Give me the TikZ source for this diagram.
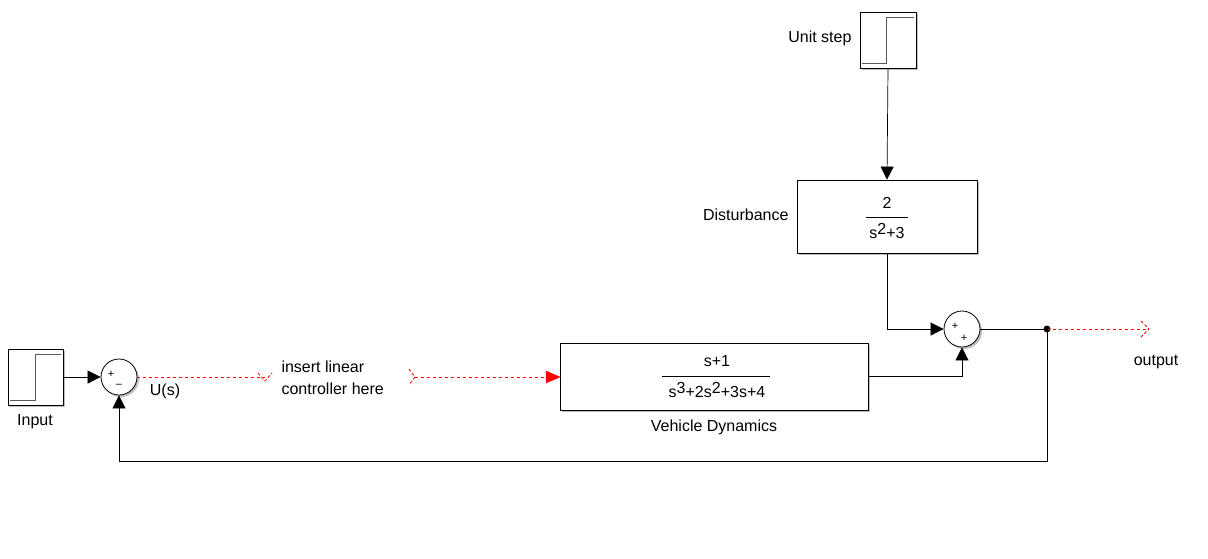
\documentclass[tikz,border=0pt]{standalone}
\usepackage{fontspec}
\setmainfont{Liberation Sans}
\usetikzlibrary{arrows.meta}
\begin{document}
\begin{tikzpicture}[x=1pt,y=-1pt,
  blk/.style={draw,line width=0.8pt,fill=white},
  sh/.style={fill=black!25},
  sumc/.style={circle,draw,line width=0.8pt,fill=white,minimum size=36pt,inner sep=0pt},
  wire/.style={line width=0.7pt},
  arr/.style={wire,-{Triangle[length=13pt,width=13pt]}},
  red wire/.style={red,dashed,line width=0.7pt},
  lbl/.style={font=\fontsize{16}{22}\selectfont},
  pm/.style={font=\fontsize{11}{11}\selectfont}]
\useasboundingbox (0,0) rectangle (1208,558);
% Input
\fill[sh] (10,351) rectangle (65,407);
\node[blk,minimum width=55pt,minimum height=56pt,inner sep=0pt] (in) at (35.5,377) {};
\draw[gray!70!black,line width=0.8pt] (10,400) -- (35,400) -- (35,354) -- (61,354);
\node[lbl] (inl) at (35,422) {Input};
% Unit step
\fill[sh] (862,14) rectangle (918,70);
\node[blk,minimum width=56pt,minimum height=56pt,inner sep=0pt] (us) at (888,40) {};
\draw[gray!70!black,line width=0.8pt] (862,63) -- (886,63) -- (886,17) -- (914,17);
\node[lbl,anchor=east] (usl) at (855,38) {Unit step};
% Disturbance
\fill[sh] (799,182) rectangle (979,255);
\node[blk,minimum width=180pt,minimum height=73pt,inner sep=0pt] (dist) at (887,216.5) {};
\node[lbl] (dnum) at (887,203) {2};
\draw[line width=0.6pt] (866,217) -- (908,217);
\node[lbl] (dden) at (887,231) {s\raisebox{0.45ex}{2}+3};
\node[lbl,anchor=east] (dl) at (792,215) {Disturbance};
% Vehicle
\fill[sh] (562,345) rectangle (870,412);
\node[blk,minimum width=308pt,minimum height=67pt,inner sep=0pt] (veh) at (714,376.5) {};
\node[lbl] (vnum) at (717,361) {s+1};
\draw[line width=0.6pt] (662,376) -- (770,376);
\node[lbl] (vden) at (717,390) {s\raisebox{0.45ex}{3}+2s\raisebox{0.45ex}{2}+3s+4};
\node[lbl] (vl) at (714,427) {Vehicle Dynamics};
% sums
\fill[black!25] (121,379) circle (18pt);
\node[sumc] (s1) at (119,377) {};
\node[pm] at (111,374) {+};
\node[pm] at (119,386) {--};
\fill[black!25] (964,331) circle (18pt);
\node[sumc] (s2) at (962,329) {};
\node[pm] at (955,326) {+};
\node[pm] at (964,338) {+};
\node[lbl] (uslab) at (165,391) {U(s)};
\node[lbl,anchor=west,align=left] (ctl) at (278,378) {insert linear\\controller here};
\node[lbl] (outl) at (1156,362) {output};
% coordinates
\coordinate (c1) at (265,377);
\coordinate (c2) at (415,377);
\coordinate (j) at (1047,329);
\coordinate (oe) at (1148,329);
% wires
\draw[arr] (in.east) -- (s1.west);
\draw[red wire] (s1.east) -- (c1);
\draw[red,line width=0.8pt,dash pattern=on 3pt off 2pt] (258,373) -- (265,381) -- (272,373);
\draw[red,line width=0.8pt,dash pattern=on 3pt off 2pt] (409,369) -- (415,377) -- (409,385);
\draw[red wire] (c2) -- (546,377);
\draw[red,fill=red] (546,371) -- (560,377) -- (546,383) -- cycle;
\draw[arr] (us.south) -- (dist.north);
\draw[arr] (dist.south) |- (s2.west);
\draw[arr] (veh.east) -| (s2.south);
\draw[wire] (s2.east) -- (j);
\fill (j) circle (3.5pt);
\draw[red wire] (j) -- (oe);
\draw[red,line width=0.8pt,dash pattern=on 3pt off 2pt] (1141,321) -- (1149,329) -- (1141,337);
\draw[arr] (j) -- (1047,461) -| (s1.south);
\end{tikzpicture}
\end{document}
